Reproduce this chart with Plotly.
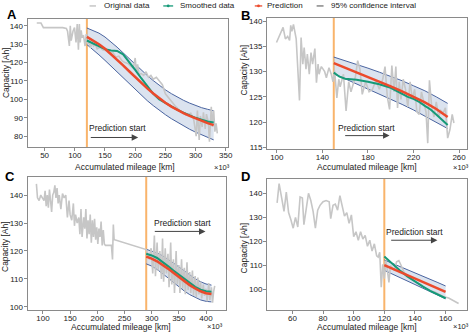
import plotly.graph_objects as go

# ---------------- data (x in 10^3 km, capacity in Ah) ----------------
# Panel A
a_orig_x = [37, 44, 48, 53, 60, 70, 80, 86, 88, 91, 92.5, 94, 97, 99.5, 102, 104, 106, 107.5, 109, 110.5, 112, 114.5, 117, 119,
            121, 123.5, 126, 128.5, 131, 134, 137, 142, 146, 152, 157, 163, 168, 173, 178, 183, 188, 193, 197, 200, 202, 204, 206,
            210, 214, 218, 222, 226, 230, 235, 240, 245, 250, 258, 266, 275, 284, 292, 297, 301, 303, 306, 308, 311, 313, 316,
            318, 321, 323, 326, 328, 330, 332, 334, 336]
a_orig_y = [141.5, 141.5, 139, 139, 139, 139, 139, 138.5, 137, 129, 140, 132, 137, 139, 131, 141, 127, 141, 131, 137.5, 134,
            134.5, 129, 135.5, 130, 132, 128, 131, 129, 130, 127.5, 128.5, 127, 126.5, 125, 125.5, 123, 123.5, 121, 120, 119.5,
            118, 117, 122.5, 115, 119, 113.5, 114, 113, 115, 112, 113, 111, 112, 110, 108, 103, 99.5, 96.5, 93.5, 91.5, 92.5,
            89, 80, 94, 78, 91, 85, 93, 84, 92, 88, 77, 96, 85, 94, 82.5, 87, 81.5]
a_smooth_x = [120, 130, 140, 150, 160, 170, 180, 190, 200, 210, 220, 230, 240, 250, 260, 270, 280, 290, 300, 310, 320, 330]
a_smooth_y = [132, 130.5, 128.8, 127.3, 126.6, 126.3, 124.5, 120.5, 116, 111.5, 107, 103, 100, 98, 96, 94.3, 92.8, 91.3, 90, 89,
              88, 87.5]
a_pred_x = [120, 130, 140, 150, 160, 170, 180, 190, 200, 210, 220, 230, 240, 250, 260, 270, 280, 290, 300, 310, 320, 330]
a_pred_y = [134, 132.2, 130, 127.5, 124.6, 121.6, 118.5, 115.3, 112.1, 109, 106, 103.2, 100.6, 98.2, 96.1, 94.2, 92.5, 91, 89.6,
            88.3, 87.1, 86]
a_upper_y = [138.8, 137.6, 136, 133.9, 131.3, 128.4, 125.3, 122.1, 119, 115.9, 113, 110.2, 107.6, 105.2, 103.1, 101.2, 99.5,
             98, 96.7, 95.5, 94.6, 93.8]
a_lower_y = [129.8, 127.2, 124.2, 121.2, 118, 114.8, 111.6, 108.4, 105.3, 102.2, 99.3, 96.6, 94, 91.7, 89.5, 87.5, 85.6, 83.8,
             82.2, 80.7, 79.3, 78]

# Panel B
b_orig_x = [99.7, 103, 105.5, 107.5, 109.5, 111.2, 112.2, 113.2, 114.6, 117, 118.3, 119.9, 121.3, 122.8, 124, 125.6, 126.8,
            128.5, 130, 131.4, 133.4, 134.8, 136.2, 137.1, 138.3, 139.1, 140.6, 142, 143.5, 145.8, 147.8, 149.3, 150.7, 152.7,
            154.4, 155.6, 158.5, 160.8, 163.1, 165.1, 167, 169, 171, 173, 175, 178, 181, 184, 187, 190, 193, 195, 197, 199,
            201, 203, 204.5, 206, 207.5, 209, 211, 213, 215, 217, 219, 221, 223, 225, 227, 229, 231, 232.5, 234, 236, 238,
            240, 242, 244, 246, 248, 250, 252, 254, 255.5]
b_orig_y = [135.8, 137.5, 138.8, 136.5, 137, 136.2, 139.2, 138, 139.4, 136.5, 130, 124.3, 136.8, 131.5, 134.8, 130.5, 133.5,
            129.5, 133.8, 131.5, 134.6, 127.8, 131.5, 129.5, 130.5, 131, 130.5, 130, 128.8, 130.8, 129.5, 128, 130.2, 124.8,
            128.5, 127, 129.5, 122.2, 128, 126, 127.5, 129, 132.2, 130.5, 125.5, 128, 126, 126.5, 128.3, 126.5, 128.5, 131,
            125, 122.5, 131.2, 126, 131, 122.8, 128, 124.5, 128.5, 126.5, 123, 128, 124.5, 126.5, 122, 121.5, 126, 123.8, 122,
            115.8, 128.3, 123, 121, 124, 121, 122.3, 121.8, 122.8, 116.8, 118.5, 121.5, 119.8]
b_smooth_x = [150, 155, 160, 170, 180, 190, 200, 205, 210, 215, 220, 225, 230, 235, 240, 245, 250]
b_smooth_y = [129.8, 129, 128.6, 128.4, 128, 127.5, 126.8, 126.2, 125.5, 125, 124.6, 124, 123.2, 122.5, 121.5, 120.5, 119.4]
b_pred_x = [150, 160, 170, 180, 190, 200, 210, 220, 230, 240, 250]
b_pred_y = [131.7, 130.8, 129.9, 129, 128, 127.1, 126.1, 125, 123.9, 122.6, 121]
b_upper_y = [132.9, 132.2, 131.5, 130.7, 129.9, 129.1, 128.2, 127.2, 126.2, 125, 123.7]
b_lower_y = [129.6, 128.6, 127.6, 126.6, 125.6, 124.6, 123.5, 122.4, 121.2, 120, 118.7]

# Panel C
c_orig_x = [88, 90, 93, 96, 99, 102, 104, 106, 108, 110, 112, 114, 116, 118, 120, 122, 124, 126, 128, 130, 133, 136, 139,
            142, 145, 148, 150, 153, 156, 158, 160, 163, 166, 168, 170, 172, 175, 177, 179, 181, 183, 185, 187, 189, 191, 193,
            195, 197, 199, 201, 203, 205, 207, 209, 211, 213, 215, 218, 222, 226, 228, 229.5, 231, 232, 290,
            296, 299, 302, 305, 307, 310, 312, 315, 318, 320, 322, 325, 327, 330, 332, 335, 337, 340, 342, 345, 347, 350, 352,
            355, 357, 360, 362, 365, 367, 370, 372, 375, 377, 380, 382, 385, 387, 390, 392, 395, 397, 400, 402, 405, 407, 410,
            412, 414, 416]
c_orig_y = [144, 139, 138, 140, 139, 138, 141.5, 136, 140, 135.5, 142, 139, 134, 140, 141, 143.5, 139, 142.5, 137, 140, 135,
            140.5, 139, 140, 132, 138, 133, 131, 137, 129, 133, 130, 132, 126, 135, 125, 132, 128, 135, 124.5, 131, 126,
            133, 123, 131, 125, 131.5, 124, 128.5, 122.5, 128, 125, 130.5, 122, 127.5, 122.5, 122, 122, 122, 122, 117,
            129.5, 124, 124, 120.5,
            117, 121, 112, 125.5, 111, 123, 113, 120, 110, 124.5, 109, 121, 112, 119, 107, 123, 108, 117, 105, 120, 108,
            115, 105, 117, 106.5, 114, 104.5, 116, 106, 112.5, 105, 113, 104, 111, 103.5, 110.5, 104.5, 109, 103, 108, 104,
            106.5, 102, 108.5, 102.5, 107, 101.5, 105.5, 107.5, 103]
c_smooth_x = [290, 300, 310, 320, 330, 340, 350, 360, 370, 380, 390, 400, 410]
c_smooth_y = [119, 118.4, 117.5, 116.2, 114.6, 113, 111.5, 110, 108.6, 107.2, 106.2, 105.6, 105.4]
c_pred_x = [290, 300, 310, 320, 330, 340, 350, 360, 370, 380, 390, 400, 410]
c_pred_y = [118, 117.3, 116.3, 115.1, 113.7, 112.2, 110.7, 109.2, 107.8, 106.6, 105.6, 104.9, 104.6]
c_upper_y = [120.6, 120, 119.3, 118.3, 117.1, 115.7, 114.3, 112.8, 111.4, 110.1, 109, 108.2, 107.8]
c_lower_y = [115.4, 114.6, 113.4, 112, 110.4, 108.8, 107.2, 105.7, 104.4, 103.3, 102.5, 102, 101.8]

# Panel D
d_orig_x = [50, 51.3, 53, 54.5, 56, 57.5, 59, 60.5, 62, 63.5, 65, 66.5, 67.5, 69, 70.5, 72, 73.5, 75, 76.5, 78, 80, 82, 84,
            85, 86.5, 88, 89.5, 91, 92.5, 94, 95.5, 97, 98.5, 100, 101.5, 103, 104.5, 106, 107.5, 109, 110.5, 112, 113.5, 115,
            116, 117, 118, 119, 120, 121, 122, 123, 124, 125, 126.5, 128, 129.5, 131, 133, 135, 138, 141, 144, 147, 150,
            153, 156, 159, 162, 165, 168.5]
d_orig_y = [136, 144, 138, 132.5, 140.5, 132, 129, 125.5, 130, 126, 138.5, 138, 127, 133, 140, 137, 132.5, 125.5, 133, 135,
            136.5, 137, 136.5, 129.5, 135, 135.5, 133, 139, 134, 130.5, 132, 127.5, 131, 122, 124, 120.5, 124, 121, 122.5,
            118, 120.5, 116, 119, 114, 113.5, 115.5, 101, 110.5, 104.5, 112, 108, 103, 110, 109, 108, 111.5, 112, 110,
            107, 106, 104.5, 103, 102, 100.5, 99.5, 99, 98, 97, 96.5, 95.5, 94.2]
d_smooth_x = [120, 125, 130, 135, 140, 145, 150, 155, 160]
d_smooth_y = [113.7, 110.7, 108, 105.5, 103.3, 101.3, 99.5, 97.9, 96.4]
d_pred_x = [120, 125, 130, 135, 140, 145, 150, 155, 160]
d_pred_y = [110.2, 108.8, 107.4, 106, 104.6, 103.1, 101.7, 100.3, 99]
d_upper_y = [112.3, 111, 109.7, 108.4, 107.1, 105.7, 104.3, 102.9, 101.5]
d_lower_y = [108, 106.6, 105.1, 103.6, 102.1, 100.6, 99.1, 97.6, 96.2]

pred_start = [120, 150, 290, 120]
panel_letters = ["A", "B", "C", "D"]
x_ranges = [[22, 353], [91.5, 267], [72, 436], [43.5, 174]]
y_ranges = [[74, 143.8], [114.6, 140.7], [98.8, 146.5], [91.4, 146]]
x_ticks = [[50, 100, 150, 200, 250, 300, 350], [100, 140, 180, 220, 260], [100, 150, 200, 250, 300, 350, 400],
           [60, 80, 100, 120, 140, 160]]
y_ticks = [[80, 90, 100, 110, 120, 130, 140], [115, 120, 125, 130, 135, 140], [100, 110, 120, 130, 140],
           [100, 110, 120, 130, 140]]
x_title = "Accumulated mileage [km]"
y_title = "Capacity [Ah]"
multiplier = "×10³"
# arrow positions: (text x, text y, arrow start x, arrow end x, arrow y)
arrows = [(170, 84.6, 124, 205, 79.3), (179, 118.8, 158.7, 199, 117.3), (356, 129.9, 303, 399, 127),
          (140, 123.8, 123.5, 154.7, 120.5)]

panels = [
    (a_orig_x, a_orig_y, a_smooth_x, a_smooth_y, a_pred_x, a_pred_y, a_upper_y, a_lower_y),
    (b_orig_x, b_orig_y, b_smooth_x, b_smooth_y, b_pred_x, b_pred_y, b_upper_y, b_lower_y),
    (c_orig_x, c_orig_y, c_smooth_x, c_smooth_y, c_pred_x, c_pred_y, c_upper_y, c_lower_y),
    (d_orig_x, d_orig_y, d_smooth_x, d_smooth_y, d_pred_x, d_pred_y, d_upper_y, d_lower_y),
]

# ---------------- styling ----------------
W, H = 474, 336
GRAY = "#c6c6c6"
GREEN = "#159a78"
RED = "#ec4a2c"
BAND_LINE = "#4a64a0"
BAND_FILL = "rgba(170,188,216,0.42)"
ORANGE = "#f9b46b"
FONT = "Liberation Sans, Arial, sans-serif"
TXT = "#222"

# plot-area boxes in pixels: (left, right, top, bottom)
boxes = [(28, 230, 18, 148), (270, 472, 17, 150), (28, 228, 178, 313), (270, 472, 180, 313)]
letter_pos = [(5, 14), (242, 15), (3, 178), (242, 178)]
xtitle_pos = [(126, 168), (371, 168), (122, 329.5), (371, 329.5)]
mult_pos = [(224, 168), (466, 168), (217, 329.5), (466, 329.5)]
ytitle_pos = [(6, 72), (247, 70), (5, 248), (247, 250)]

fig = go.Figure()
for i, (ox, oy, sx, sy, px, py, uy, ly) in enumerate(panels):
    xa = "x" if i == 0 else f"x{i+1}"
    ya = "y" if i == 0 else f"y{i+1}"
    fig.add_trace(go.Scatter(x=px, y=ly, mode="lines", line=dict(color=BAND_LINE, width=1),
                             xaxis=xa, yaxis=ya, showlegend=False, hoverinfo="skip"))
    fig.add_trace(go.Scatter(x=px, y=uy, mode="lines", line=dict(color=BAND_LINE, width=1), fill="tonexty",
                             fillcolor=BAND_FILL, xaxis=xa, yaxis=ya, showlegend=False, hoverinfo="skip"))
    fig.add_trace(go.Scatter(x=ox, y=oy, mode="lines", line=dict(color=GRAY, width=1.6),
                             xaxis=xa, yaxis=ya, showlegend=False))
    fig.add_trace(go.Scatter(x=sx, y=sy, mode="lines", line=dict(color=GREEN, width=2),
                             xaxis=xa, yaxis=ya, showlegend=False))
    fig.add_trace(go.Scatter(x=px, y=py, mode="lines", line=dict(color=RED, width=2.5),
                             xaxis=xa, yaxis=ya, showlegend=False))

layout = dict(width=W, height=H, margin=dict(l=0, r=0, t=0, b=0), paper_bgcolor="white", plot_bgcolor="white",
              font=dict(family=FONT, size=8, color=TXT), showlegend=False)
annotations = []
shapes = []


def paper(px, py):
    return px / W, 1 - py / H


for i in range(4):
    l, r, t, b = boxes[i]
    suffix = "" if i == 0 else str(i + 1)
    axis_common = dict(showline=True, mirror=True, linecolor="#8a8a8a", linewidth=1.2, showgrid=False, zeroline=False,
                       ticks="outside", ticklen=3, tickcolor="#8a8a8a", tickfont=dict(size=8, color=TXT))
    layout["xaxis" + suffix] = dict(axis_common, domain=[l / W, r / W], range=x_ranges[i], tickvals=x_ticks[i],
                                    anchor="y" + suffix, ticklabelstandoff=-3)
    layout["yaxis" + suffix] = dict(axis_common, domain=[1 - b / H, 1 - t / H], range=y_ranges[i], tickvals=y_ticks[i],
                                    anchor="x" + suffix, ticklabelstandoff=-1)
    xr = "x" + suffix
    yr = "y" + suffix
    shapes.append(dict(type="line", xref=xr, yref=yr + " domain", x0=pred_start[i], x1=pred_start[i], y0=0, y1=1,
                       line=dict(color=ORANGE, width=2), layer="below"))
    tx, ty, ax0, ax1, ay = arrows[i]
    annotations.append(dict(x=tx, y=ty, xref=xr, yref=yr, text="Prediction start", showarrow=False,
                            font=dict(size=8.5, color=TXT)))
    annotations.append(dict(x=ax1, y=ay, ax=ax0, ay=ay, xref=xr, yref=yr, axref=xr, ayref=yr, text="",
                            showarrow=True, arrowhead=2, arrowsize=1.3, arrowwidth=1, arrowcolor="#444"))
    x, y = paper(*letter_pos[i])
    annotations.append(dict(x=x, y=y, xref="paper", yref="paper", text=f"<b>{panel_letters[i]}</b>",
                            showarrow=False, font=dict(size=13, color="#000"), xanchor="left", yanchor="middle"))
    x, y = paper(*xtitle_pos[i])
    annotations.append(dict(x=x, y=y, xref="paper", yref="paper", text=x_title, showarrow=False,
                            font=dict(size=8.5, color=TXT), xanchor="center", yanchor="middle"))
    x, y = paper(*mult_pos[i])
    annotations.append(dict(x=x, y=y, xref="paper", yref="paper", text=multiplier, showarrow=False,
                            font=dict(size=7.5, color=TXT), xanchor="center", yanchor="middle"))
    x, y = paper(*ytitle_pos[i])
    annotations.append(dict(x=x, y=y, xref="paper", yref="paper", text=y_title, showarrow=False, textangle=-90,
                            font=dict(size=8.5, color=TXT), xanchor="center", yanchor="middle"))

# custom legend at top
legend_items = [("Original data", GRAY, False, 90.5, 97, 103), ("Smoothed data", GREEN, True, 165, 175, 180),
                ("Prediction", RED, True, 257.5, 265, 268), ("95% confidence interval", "#888", False, 320, 327, 333)]
ly_px = 5
for name, col, marker, x0, x1, xt in legend_items:
    shapes.append(dict(type="line", xref="paper", yref="paper", x0=x0 / W, x1=x1 / W, y0=1 - ly_px / H, y1=1 - ly_px / H,
                       line=dict(color=col, width=1.5 if not marker else 1.3)))
    if marker:
        cx = (x0 + x1) / 2
        shapes.append(dict(type="circle", xref="paper", yref="paper", x0=(cx - 1.4) / W, x1=(cx + 1.4) / W,
                           y0=1 - (ly_px + 1.4) / H, y1=1 - (ly_px - 1.4) / H, fillcolor=col, line=dict(width=0)))
    annotations.append(dict(x=xt / W, y=1 - ly_px / H, xref="paper", yref="paper", text=name, showarrow=False,
                            xanchor="left", yanchor="middle", font=dict(size=8, color=TXT)))

layout["annotations"] = annotations
layout["shapes"] = shapes
fig.update_layout(**layout)
fig.write_html("out.html")
